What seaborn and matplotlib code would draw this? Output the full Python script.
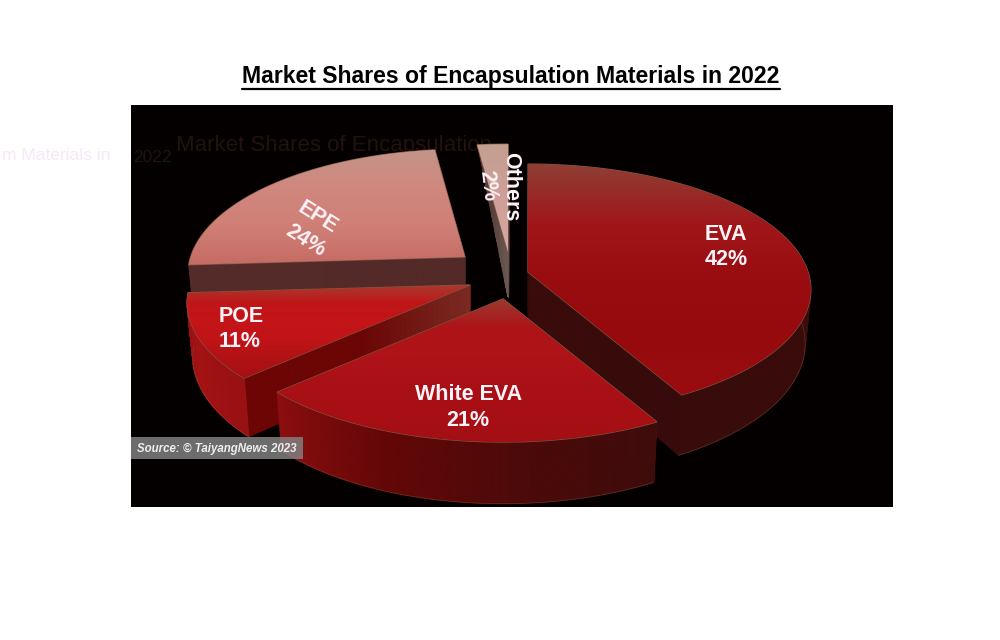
import numpy as np
import matplotlib
matplotlib.use("Agg")
import matplotlib.pyplot as plt
from matplotlib.patches import Polygon, Rectangle
import seaborn as sns

# chart data
materials = ["EVA", "White EVA", "POE", "EPE", "Others"]
shares = [42, 21, 11, 24, 2]

title = "Market Shares of Encapsulation Materials in 2022"
source = "Source: © TaiyangNews 2023"

# apex of each exploded slice, in pixels
apex = {"EVA": (528, 272), "White EVA": (503, 299), "POE": (470, 285),
        "EPE": (465, 257), "Others": (508, 252)}
# EPE sits a little narrower than the rest
x_scale = {"EVA": 1.0, "White EVA": 1.0, "POE": 1.0, "EPE": 0.98, "Others": 1.0}
# back to front
draw_order = ["Others", "EPE", "EVA", "POE", "White EVA"]

# projection of the pie disc
rx, ry, persp, depth = 280, 123, 0.14, 53
floor_shrink = 0.98
others_depth = 45

top_colors = {
    "EVA": ["#8f3e34", "#a0171a", "#990c10", "#960a0e", "#9a0c10"],
    "White EVA": ["#9a3a30", "#ae1419", "#ae1318", "#aa1116", "#a80f14", "#a30f14"],
    "POE": ["#a83c30", "#c01618", "#c41419", "#c01418", "#b01216", "#a51014"],
    "EPE": ["#c49488", "#d0877e", "#cf7f76", "#c56b64"],
    "Others": ["#c4a090", "#cf9f98", "#d4aaa2"],
}
rim_colors = {
    "EVA": ["#380c0b", "#3a0c0b"],
    "White EVA": ["#8c0e10", "#640707", "#4c0a0a", "#3e0c0b"],
    "POE": ["#8c1011", "#a41214", "#981113"],
    "EPE": ["#542a28", "#552b29"],
    "Others": ["#6a5048", "#6a5048"],
}
# faces run from the apex outwards, first entry is the lower math angle
face_colors = {
    "EVA": (["#3a0b0b", "#370b0b"], ["#330a0a", "#370b0b"]),
    "White EVA": (["#6a0808", "#6a0808"], ["#8c0e10", "#8c0e10"]),
    "POE": (["#8c1011", "#8c1011"], ["#7a2a22", "#6a0605", "#6e0505"]),
    "EPE": (["#552b29", "#542a28"], ["#542a28", "#552b29"]),
    "Others": (["#5a3f3b", "#5a3f3b"], ["#6a5a54", "#5a3f3b", "#4e3430"]),
}
edge_color = "#7a5a44"


def project(theta, radius, center, xs=1.0):
    # theta in degrees on the flat pie, front of the disc gets bigger
    t = np.radians(theta)
    u = radius * np.cos(t)
    v = -radius * np.sin(t)
    s = 1 / (1 - persp * v)
    return center[0] + s * rx * xs * u, center[1] + s * ry * v, s


sns.set_theme(style="white")
plt.rcParams["font.family"] = ["Liberation Sans", "DejaVu Sans"]

fig = plt.figure(figsize=(10, 6.4), dpi=100, facecolor="white")
ax = fig.add_axes([0, 0, 1, 1])

# ax.pie gives the angle span of every slice
wedges, _ = ax.pie(shares, startangle=90, counterclock=False, radius=1)
spans = {m: (w.theta1, w.theta2) for m, w in zip(materials, wedges)}
for w in wedges:
    w.remove()

ax.set_aspect("auto")
ax.set_xlim(0, 1000)
ax.set_ylim(640, 0)
ax.axis("off")

ax.add_patch(Rectangle((131, 105), 762, 402, facecolor="#040000", linewidth=0, zorder=1))

# ghost text left in the source image by compression
ghost = dict(ha="left", va="center", zorder=1.5)
ax.text(2, 156, "m Materials in", color="#f9e6f9", fontsize=12.5, **ghost)
ax.text(133, 157, "2022", color="#241210", fontsize=12.5, **ghost)
ax.text(176, 146, "Market Shares of Encapsulation", color="#22120e", fontsize=16, **ghost)


def strip(x0, y0, x1, y1, colors, z):
    # a wall made of thin quads, colour goes along its length
    n = len(x0)
    pal = sns.blend_palette(colors, n)
    for i in range(n - 1):
        quad = [(x0[i], y0[i]), (x1[i], y1[i]), (x1[i + 1], y1[i + 1]),
                (x0[i + 1], y0[i + 1])]
        ax.add_patch(Polygon(quad, closed=True, facecolor=pal[i], edgecolor=pal[i],
                             linewidth=0.8, zorder=z))


for z, m in enumerate(draw_order):
    base = 2 + z * 3
    th1, th2 = spans[m]
    th = np.linspace(th1, th2, 160)
    c = apex[m]
    xs = x_scale[m]
    arc_x, arc_y, arc_s = project(th, 1.0, c, xs)

    # radial faces
    rr = np.linspace(0, 1, 40)
    for angle, cols in zip((th1, th2), face_colors[m]):
        fx, fy, fs = project(np.full(40, angle), rr, c, xs)
        if m == "Others":
            # this thin slice tapers away towards the back
            low = others_depth * fs * (1 - rr)
        else:
            low = depth * fs
        strip(fx, fy, c[0] + (fx - c[0]) * floor_shrink, fy + low, cols, base + 1)

    # outer wall, only the near half of the disc shows one
    front = np.sin(np.radians(th)) < 0.05
    if m not in ("EPE", "Others") and front.any():
        low_x = c[0] + (arc_x[front] - c[0]) * floor_shrink
        low_y = arc_y[front] + depth * arc_s[front]
        strip(arc_x[front], arc_y[front], low_x, low_y, rim_colors[m], base + 1.5)
        ax.plot(low_x, low_y, color=edge_color, lw=0.5, alpha=0.5, zorder=base + 1.5)

    # top surface, vertical gradient clipped to the slice
    outline = np.vstack([[c], np.column_stack([arc_x, arc_y])])
    top = Polygon(outline, closed=True, facecolor="none", edgecolor=edge_color,
                  linewidth=0.9, zorder=base + 2)
    ax.add_patch(top)
    pal = sns.blend_palette(top_colors[m], 200)
    grad = np.array(pal)[:, None, :]
    ymin, ymax = outline[:, 1].min(), outline[:, 1].max()
    im = ax.imshow(grad, extent=(outline[:, 0].min(), outline[:, 0].max(), ymax, ymin),
                   aspect="auto", zorder=base + 2, interpolation="bilinear")
    im.set_clip_path(top)

ax.set_xlim(0, 1000)
ax.set_ylim(640, 0)

# slice labels
label_color = "#fff2f8"
lab = dict(color=label_color, fontsize=15.5, fontweight="bold", ha="center", va="center", zorder=30)
ax.text(726, 234.5, materials[0], **lab)
ax.text(726, 259.5, f"{shares[0]}%", **lab)
ax.text(469, 395, materials[1], **lab)
ax.text(468, 420.5, f"{shares[1]}%", **lab)
ax.text(241, 316.5, materials[2], **lab)
ax.text(240, 341.5, f"{shares[2]}%", **lab)
ax.text(318, 218, materials[3], rotation=-32, **lab)
ax.text(305, 241, f"{shares[3]}%", rotation=-32, **lab)
ax.text(511, 187, materials[4], rotation=-90, **lab)
ax.text(488, 186, f"{shares[4]}%", rotation=-83, **lab)

# source tag
ax.add_patch(Rectangle((131, 437), 172, 22, facecolor="#808080", alpha=0.85, linewidth=0, zorder=31))
ax.text(137, 448.5, source, color="#eeeeee", fontsize=8.3, fontweight="bold", style="italic",
        ha="left", va="center", zorder=32)

# title
ax.text(511, 77, title, color="black", fontsize=16.6, fontweight="bold", ha="center", va="center")
ax.plot([242, 780], [89, 89], color="black", lw=1.6)

fig.savefig("out.png", dpi=100)
